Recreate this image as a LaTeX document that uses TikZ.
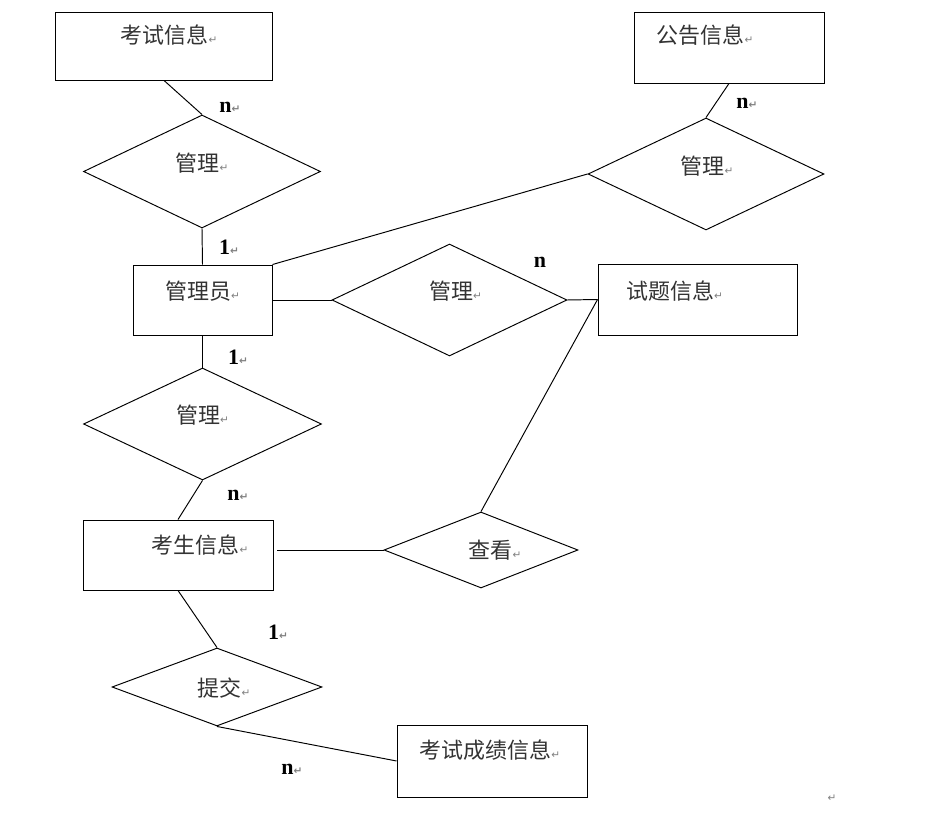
\documentclass[tikz,border=0pt]{standalone}
\usepackage{fontspec}
\setmainfont{Liberation Serif}
\newfontfamily\cjkfont{Noto Sans CJK SC}
\newfontfamily\markfont{DejaVu Sans}
\usetikzlibrary{shapes.geometric}
\newcommand{\pmark}{{\markfont\fontsize{6pt}{6pt}\selectfont\textcolor{gray}{↵}}}
\newcommand{\cjktext}{\cjkfont\fontsize{12.5pt}{15pt}\selectfont}
\newcommand{\cardfont}{\fontsize{12.5pt}{15pt}\selectfont\bfseries}

\begin{document}
\begin{tikzpicture}[x=0.02cm, y=-0.02cm, line width=0.55pt,
    entity/.style={draw, rectangle, inner sep=0pt},
    relation/.style={draw, diamond, inner sep=0pt},
    card/.style={inner sep=0pt, font=\cardfont},
    every label/.style={font=\cjktext, text=black!80, inner sep=0pt}]
  \useasboundingbox (0,0) rectangle (944,820);
  % entities
  \node[entity, minimum width=4.36cm, minimum height=1.36cm, label={[shift={(5,-11)}]center:考试信息\pmark}] (exam) at (164,46) {};
  \node[entity, minimum width=3.8cm, minimum height=1.42cm, label={[shift={(-24,-12)}]center:公告信息\pmark}] (notice) at (729,47.5) {};
  \node[entity, minimum width=2.78cm, minimum height=1.4cm, label={[shift={(0,-9)}]center:管理员\pmark}] (admin) at (202.5,300) {};
  \node[entity, minimum width=3.98cm, minimum height=1.42cm, label={[shift={(-23,-8)}]center:试题信息\pmark}] (question) at (697.5,299.5) {};
  \node[entity, minimum width=3.8cm, minimum height=1.4cm, label={[shift={(22,-10)}]center:考生信息\pmark}] (student) at (178,555) {};
  \node[entity, minimum width=3.8cm, minimum height=1.44cm, label={[shift={(-2,-11)}]center:考试成绩信息\pmark}] (score) at (492,761) {};
  % relations
  \node[relation, minimum width=4.74cm, minimum height=2.26cm, label={[shift={(0,-8)}]center:管理\pmark}] (d1) at (202,171.5) {};
  \node[relation, minimum width=4.72cm, minimum height=2.24cm, label={[shift={(1,-8)}]center:管理\pmark}] (d2) at (706,174) {};
  \node[relation, minimum width=4.7cm, minimum height=2.24cm, label={[shift={(6,-9)}]center:管理\pmark}] (d3) at (449.5,300) {};
  \node[relation, minimum width=4.76cm, minimum height=2.24cm, label={[shift={(0,-9)}]center:管理\pmark}] (d4) at (202.5,424) {};
  \node[relation, minimum width=3.88cm, minimum height=1.52cm, label={[shift={(14,0)}]center:查看\pmark}] (view) at (481,550) {};
  \node[relation, minimum width=4.2cm, minimum height=1.56cm, label={[shift={(7,1)}]center:提交\pmark}] (submit) at (217,687) {};
  % connectors
  \draw (exam.south) -- (d1.north);
  \draw (d1.south) -- (admin.north);
  \draw (notice.south) -- (d2.north);
  \draw (d2.west) -- (admin.north east);
  \draw (admin.east) -- (d3.west);
  \draw (d3.east) -- (question.west);
  \draw (question.west) -- (view.north);
  \draw (admin.south) -- (d4.north);
  \draw (d4.south) -- (student.north);
  \draw ([xshift=0.08cm]view.west -| student.east) -- (view.west);
  \draw (student.south) -- (submit.north);
  \draw (submit.south) -- (score.west);
  % cardinalities
  \node[card] (c-exam) at (230,107) {n\pmark};
  \node[card] (c-admin1) at (229,247) {1\pmark};
  \node[card] (c-notice) at (747,103) {n\pmark};
  \node[card] (c-question) at (540,262) {n};
  \node[card] (c-admin2) at (238,357) {1\pmark};
  \node[card] (c-student1) at (238,495) {n\pmark};
  \node[card] (c-student2) at (278,632) {1\pmark};
  \node[card] (c-score) at (292,769) {n\pmark};
  \node[inner sep=0pt] (endmark) at (832,798) {\pmark};
\end{tikzpicture}
\end{document}
